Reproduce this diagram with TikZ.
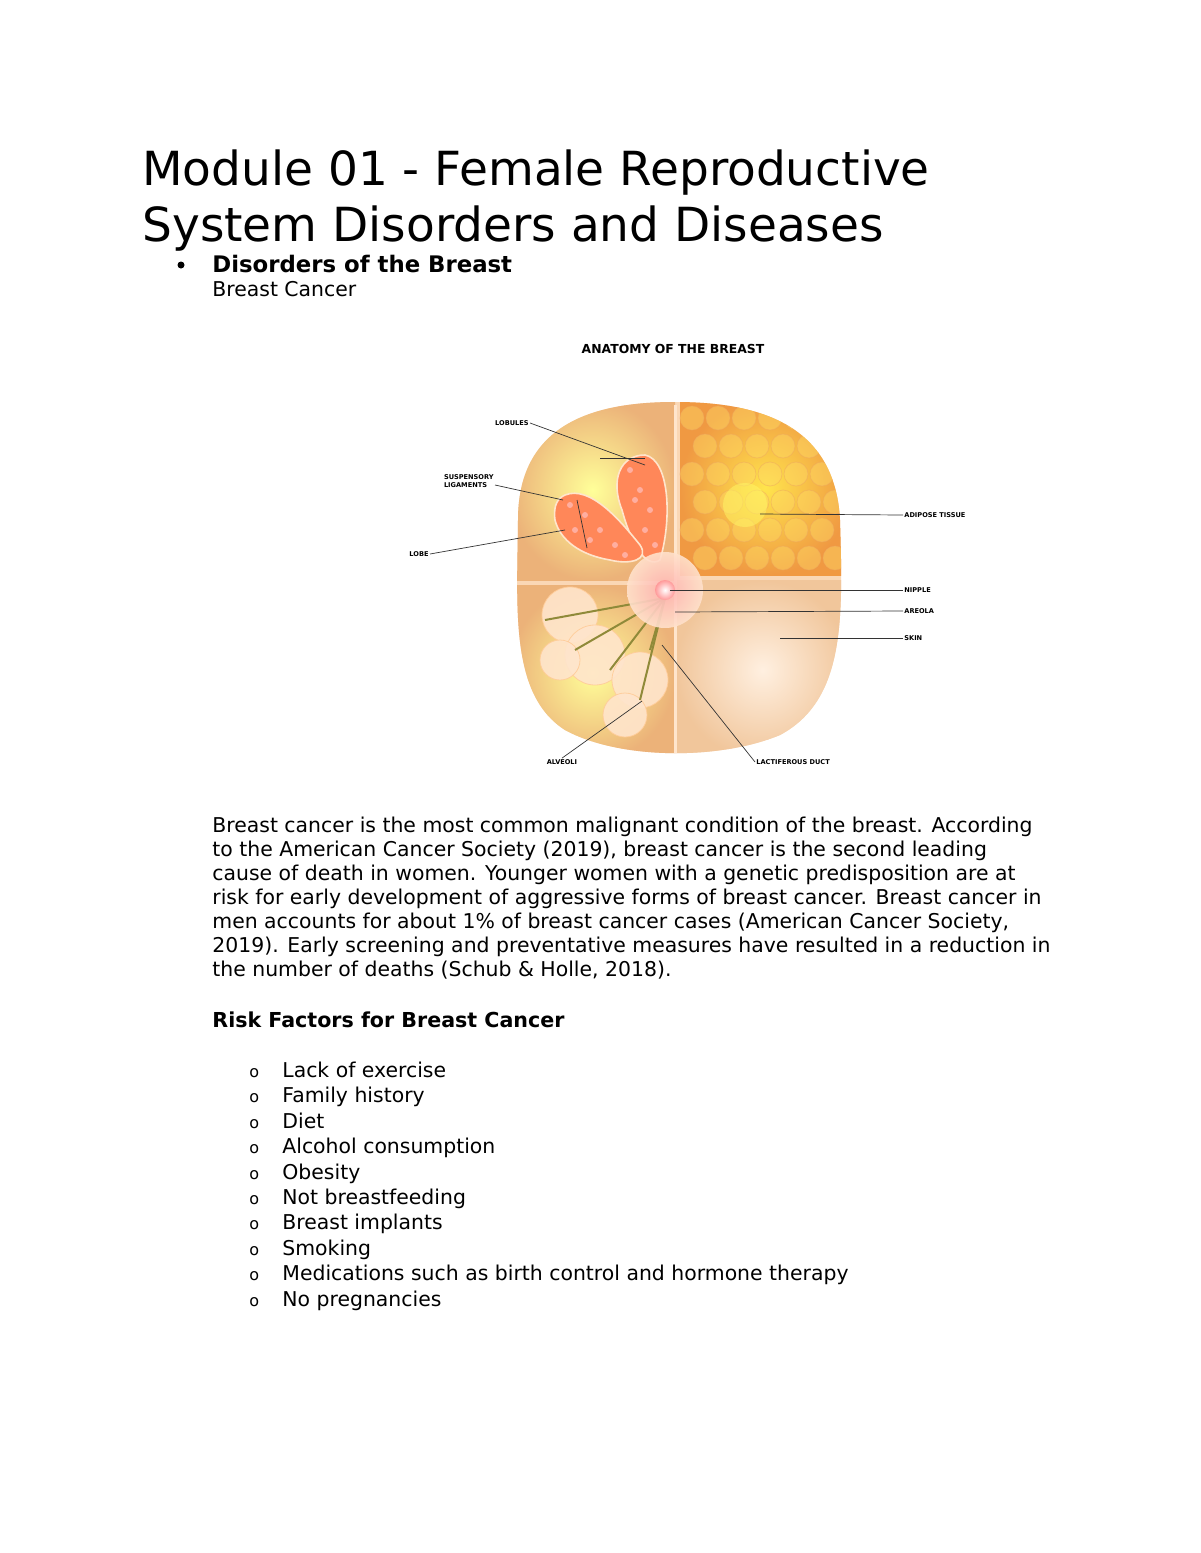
\documentclass[tikz,border=0pt]{standalone}
\usepackage{fontspec}
\setmainfont{DejaVu Sans}
\usetikzlibrary{calc}
\begin{document}
\begin{tikzpicture}[x=0.5pt,y=-0.5pt,
  bodytxt/.style={anchor=base west,inner sep=0pt,font=\fontsize{10.2}{12}\selectfont},
  titletxt/.style={anchor=base west,inner sep=0pt,font=\fontsize{23.5}{28}\selectfont},
  lbl/.style={font=\fontsize{3.3}{4}\selectfont\bfseries,inner sep=0.5pt},
  lead/.style={draw=black!80,line width=0.35pt},
  bul/.style={anchor=base west,inner sep=0pt,font=\fontsize{10.2}{12}\selectfont}]
\useasboundingbox (0,0) rectangle (1200,1553);
\fill[white] (0,0) rectangle (1200,1553);
% titles
\node[titletxt] (t1) at (142,185) {Module 01 - Female Reproductive};
\node[titletxt] (t2) at (142,241) {System Disorders and Diseases};
\fill (181,265) circle (3.5);
\node[bodytxt,font=\fontsize{11.4}{13}\selectfont\bfseries] (h1) at (212,272) {Disorders of the Breast};
\node[bodytxt] (h2) at (212,296) {Breast Cancer};
% illustration
\node[font=\fontsize{6.2}{7}\selectfont\bfseries,inner sep=0pt] (ttl) at (673,349) {ANATOMY OF THE BREAST};
\begin{scope}
\path[clip] (518,520) .. controls (518,420) and (600,402) .. (675,402)
  .. controls (760,402) and (835,425) .. (840,520)
  .. controls (843,620) and (845,700) .. (780,735)
  .. controls (720,760) and (620,760) .. (565,730)
  .. controls (510,695) and (517,610) .. (518,520) -- cycle;
\fill[orange!25!white!92!brown] (400,380) rectangle (900,780);
\shade[inner color=orange!30!yellow!70!white, outer color=orange!70!brown!80] (680,400) rectangle (850,575);
\foreach \i in {0,...,5}{\foreach \j in {0,...,5}{
  \pgfmathsetmacro{\cx}{692+\i*26+mod(\j,2)*13}
  \pgfmathsetmacro{\cy}{418+\j*28}
  \draw[orange!60!brown!70,fill=orange!50!yellow!60,opacity=0.45] (\cx,\cy) circle (12);}}
\fill[yellow!60!white,opacity=0.5] (745,505) circle (22);
\shade[inner color=orange!12!white, outer color=orange!50!brown!45] (675,580) rectangle (850,760);
\shade[inner color=yellow!40!white, outer color=orange!50!brown!60] (510,400) rectangle (675,580);
\shade[inner color=yellow!40!white, outer color=orange!50!brown!60] (510,585) rectangle (675,760);
\draw[orange!20!white,line width=1.5pt] (675,405) -- (675,760);
\end{scope}
% lobules
\draw[white!80!orange,line width=0.8pt,fill=red!45!orange!65] (645,455) .. controls (670,460) and (672,520) .. (660,560) .. controls (645,570) and (630,540) .. (622,510) .. controls (610,480) and (620,455) .. (645,455) -- cycle;
\draw[white!80!orange,line width=0.8pt,fill=red!45!orange!65] (565,495) .. controls (590,485) and (620,520) .. (640,545) .. controls (650,560) and (630,565) .. (610,560) .. controls (580,555) and (560,540) .. (555,520) .. controls (553,505) and (558,498) .. (565,495) -- cycle;
\foreach \x/\y in {630/470,640/490,650/510,645/530,635/500,655/545,570/505,585/515,600/530,615/545,590/540,575/530,625/555}
  \fill[red!25!white,opacity=0.7] (\x,\y) circle (3);
% alveoli region
\foreach \x/\y/\r in {570/615/28,595/655/30,640/680/28,625/715/22,560/660/20}
  \draw[orange!40!white,fill=orange!20!white,opacity=0.9] (\x,\y) circle (\r);
\foreach \x/\y in {545/620,575/650,610/670,640/700,650/650}
  \draw[olive!60!gray,line width=1pt] (665,598) -- (\x,\y);
% areola, nipple
\shade[inner color=red!30!white, outer color=red!15!orange!20, opacity=0.9] (665,590) circle (38);
\shade[inner color=white, outer color=red!40!white] (665,590) circle (10);
% leaders + labels
\node[lbl,anchor=east] (lobules) at (530,423) {LOBULES};
\node[lbl,anchor=east,align=left] (susp) at (495,481) {SUSPENSORY\\LIGAMENTS};
\node[lbl,anchor=east] (lobe) at (430,554) {LOBE};
\node[lbl,anchor=west] (adip) at (903,515) {ADIPOSE TISSUE};
\node[lbl,anchor=west] (nip) at (903,590) {NIPPLE};
\node[lbl,anchor=west] (areo) at (903,611) {AREOLA};
\node[lbl,anchor=west] (skin) at (903,638) {SKIN};
\node[lbl] (alv) at (562,762) {ALVEOLI};
\node[lbl,anchor=west] (lact) at (755,762) {LACTIFEROUS DUCT};
\coordinate (plob) at (645,465);
\coordinate (psus) at (563,500);
\coordinate (plobe) at (565,530);
\coordinate (padip) at (760,514);
\coordinate (pnip) at (670,590);
\coordinate (pareo) at (675,612);
\coordinate (pskin) at (780,638);
\coordinate (palv) at (642,701);
\coordinate (plact) at (662,645);
\draw[lead] (lobules.east) -- (plob);
\draw[lead] (600,458) -- (645,458);
\draw[lead] (susp.east |- 0,485) -- (psus);
\draw[lead] (lobe.east) -- (plobe);
\draw[lead] (577,500) -- (587,548);
\draw[lead] (adip.west) -- (padip);
\draw[lead] (nip.west) -- (pnip);
\draw[lead] (areo.west) -- (pareo);
\draw[lead] (skin.west) -- (pskin);
\draw[lead] (alv.north) -- (palv);
\draw[lead] (lact.west) -- (plact);
% paragraph
\node[bodytxt] (p1) at (212,832) {Breast cancer is the most common malignant condition of the breast. According};
\node[bodytxt] (p2) at (212,856) {to the American Cancer Society (2019), breast cancer is the second leading};
\node[bodytxt] (p3) at (212,880) {cause of death in women. Younger women with a genetic predisposition are at};
\node[bodytxt] (p4) at (212,904) {risk for early development of aggressive forms of breast cancer. Breast cancer in};
\node[bodytxt] (p5) at (212,928) {men accounts for about 1\% of breast cancer cases (American Cancer Society,};
\node[bodytxt] (p6) at (212,952) {2019). Early screening and preventative measures have resulted in a reduction in};
\node[bodytxt] (p7) at (212,976) {the number of deaths (Schub \& Holle, 2018).};
\node[bodytxt,font=\fontsize{10.3}{12}\selectfont\bfseries] (rf) at (212,1027) {Risk Factors for Breast Cancer};
\foreach \t [count=\k] in {Lack of exercise,Family history,Diet,Alcohol consumption,Obesity,Not breastfeeding,Breast implants,Smoking,Medications such as birth control and hormone therapy,No pregnancies}{
  \node[bul] (b\k) at (282,1052+\k*25.4) {\t};
  \node[anchor=base west,inner sep=0pt,font=\fontsize{8}{9}\selectfont] (o\k) at (249,1052+\k*25.4) {o};
}
\end{tikzpicture}
\end{document}
